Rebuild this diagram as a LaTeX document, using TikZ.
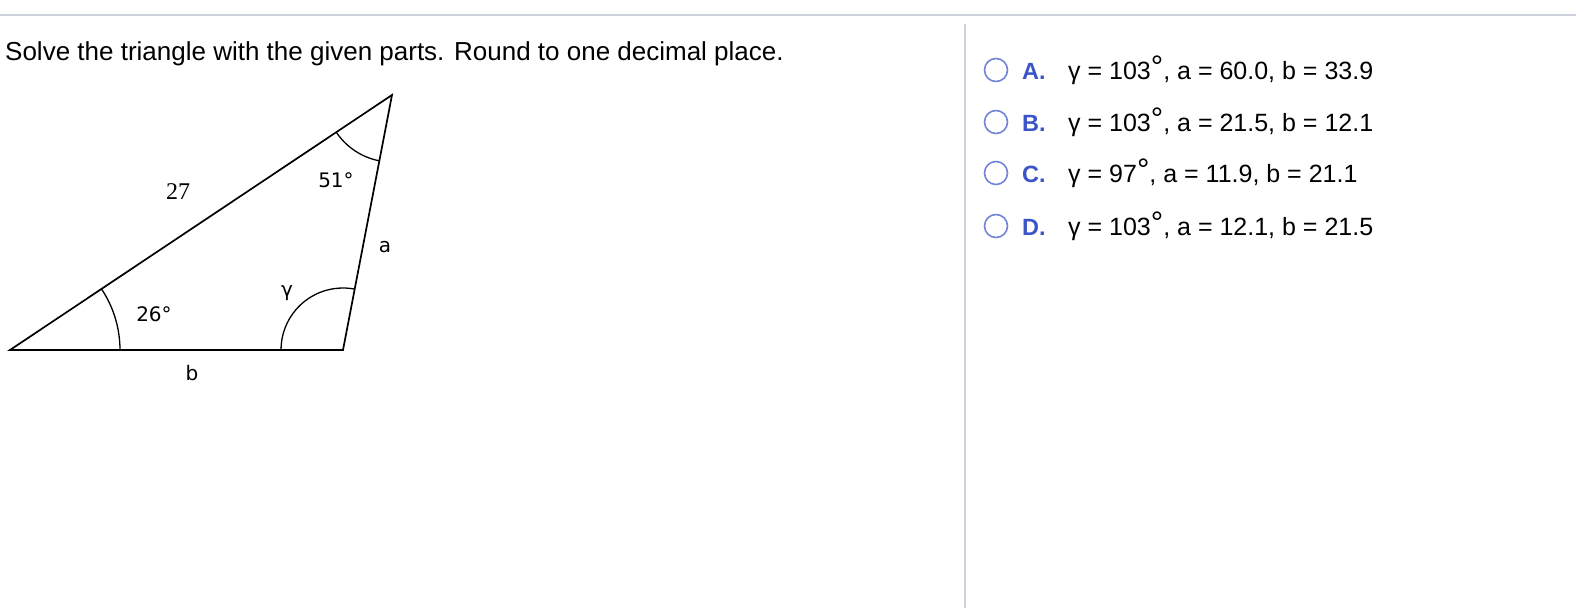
\documentclass[tikz,border=0pt]{standalone}
\usepackage{fontspec}
\setmainfont{Liberation Sans}
\newfontfamily\figfont{DejaVu Sans}
\newfontfamily\numfont{Liberation Serif}
\usepackage{tikz}
\usetikzlibrary{angles,positioning}

\definecolor{rulegray}{RGB}{205,209,220}
\definecolor{choiceblue}{RGB}{59,85,200}
\definecolor{ringblue}{RGB}{112,131,214}

\tikzset{
  figlabel/.style={font=\figfont\fontsize{20}{24}\selectfont, inner sep=0pt},
  ring/.style={draw=ringblue, line width=1.6pt, circle, minimum size=23pt, inner sep=0pt},
  letter/.style={font=\bfseries\fontsize{23.5}{27}\selectfont, text=choiceblue, anchor=base west, inner sep=0pt},
  answer/.style={font=\fontsize{25}{29}\selectfont, anchor=base west, inner sep=0pt}
}
\newcommand{\dg}{\raisebox{0.08em}{\fontsize{31}{31}\selectfont °}}

\begin{document}
\begin{tikzpicture}[x=1pt,y=1pt]
	\useasboundingbox (0,0) rectangle (1576,-608);
	\draw [rulegray, line width=1.5pt] (0,-15) -- (1576,-15);
	\draw [rulegray, line width=1.5pt] (965,-24) -- (965,-608);
	\node[anchor=base west, inner sep=0pt, font=\fontsize{26}{30}\selectfont] (question) at (5,-60) {Solve the triangle with the given parts. Round to one decimal place.};
	% triangle
	\coordinate (A) at (10,-350);
	\coordinate (B) at (343,-350);
	\coordinate (C) at (392,-95);
	\draw [line width=1.7pt, line join=miter] (A) -- (B) -- (C) -- cycle;
	\pic [draw, line width=1.3pt, angle radius=110pt] {angle = B--A--C};
	\pic [draw, line width=1.3pt, angle radius=62pt] {angle = C--B--A};
	\pic [draw, line width=1.3pt, angle radius=67pt] {angle = A--C--B};
	\node[inner sep=0pt, font=\numfont\fontsize{24}{28}\selectfont] (side27) at (178,-192) {27};
	\node[figlabel] (angC) at (336,-180) {51°};
	\node[figlabel] (sidea) at (385,-247) {a};
	\node[figlabel] (angB) at (287,-293) {γ};
	\node[figlabel] (angA) at (154,-314) {26°};
	\node[figlabel] (sideb) at (192,-373) {b};
	% answer choices
	\node[ring] (ringA) at (996,-70) {};
	\node[ring] (ringB) at (996,-122) {};
	\node[ring] (ringC) at (996,-173) {};
	\node[ring] (ringD) at (996,-226) {};
	\node[letter] (letA) at (1022,-79) {A.};
	\node[letter] (letB) at (1022,-131) {B.};
	\node[letter] (letC) at (1022,-182) {C.};
	\node[letter] (letD) at (1022,-235) {D.};
	\node[answer] (ansA) at (1068,-79) {γ = 103\dg, a = 60.0, b = 33.9};
	\node[answer] (ansB) at (1068,-131) {γ = 103\dg, a = 21.5, b = 12.1};
	\node[answer] (ansC) at (1068,-182) {γ = 97\dg, a = 11.9, b = 21.1};
	\node[answer] (ansD) at (1068,-235) {γ = 103\dg, a = 12.1, b = 21.5};
\end{tikzpicture}
\end{document}
